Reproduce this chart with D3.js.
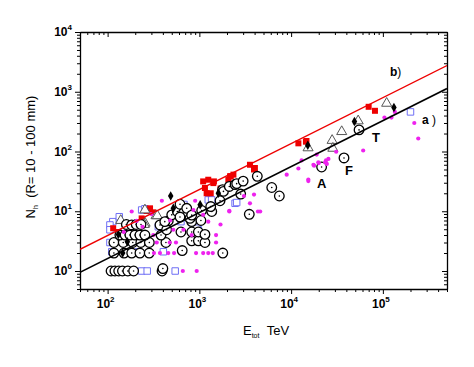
<!DOCTYPE html>
<html><head><meta charset="utf-8">
<script src="https://cdn.jsdelivr.net/npm/d3@7"></script>
<style>body{margin:0;background:#fff}svg{display:block}text{font-family:Arial,"Liberation Sans",sans-serif}</style>
</head><body>
<script>
// ---- data ----
const xDomain = [50, 5e5];
const yDomain = [0.5, 1e4];
const xMajor = [1e2, 1e3, 1e4, 1e5];
const xExp = ["2", "3", "4", "5"];
const yMajor = [1, 10, 100, 1000, 10000];
const yExp = ["0", "1", "2", "3", "4"];

// fit lines: [E, N] endpoints
const lineB = [[50, 2.3], [5e5, 2750]];   // red, "b)"
const lineA = [[50, 0.95], [5e5, 1130]];  // black, "a )"

// open circles with dot
const circles = [
 [109,1],[120,1],[132,1],[145,1],[166,1],[192,1],[392,1],[400,1.1],
 [117,2],[151,2],[183,2],[225,2],[284,2],[650,2.2],[1800,2],
 [117,3],[148,3],[188,3],[230,3],[285,3],[432,3],[825,3.2],[975,3.2],[1150,3],
 [136,4],[155,4],[175,4],[199,4],[225,4],[255,4],[382,4],[630,4.5],[825,4.5],[975,4.5],[1150,4.1],
 [160,6],[183,5.9],[205,6],[231,6],[372,5.9],[440,4.9],[458,6.9],[420,6.7],[825,6.7],[1040,7],
 [500,8.7],[575,9.9],[615,13.1],[727,10.5],[670,9.3],[790,7.6],[615,8],[728,11.2],[825,8.6],
 [1060,10.3],[1365,9.9],[1330,12],[1680,15],[1790,23],[1830,21.5],[2120,26],[2450,28],[2550,29],
 [2820,19.4],[3000,32],[4280,38.5],[3500,8.9],[6150,25],[7440,18],[21500,55],[37700,78],[55000,230]
];
// magenta dots
const dots = [
 [390,15],[860,10.5],[900,15],[1700,6],[2120,9.9],[3060,18],[3940,19],[4350,9.9],[183,9.9],[207,6.9],
 [320,2],[372,2],[458,2],[530,2],[920,2],[1100,2],[1250,2],[1400,2],[660,1],[935,1],
 [343,3],[476,3],[556,3],[1520,3],[315,4],[825,4],[1520,4],[1250,6.7],[1100,8.7],[520,4.9],[670,4.9],
 [150,4.5],[240,5.5],[300,9],[480,7],
 [8950,41],[12000,52],[15400,32],[13000,71],[19000,89],[17500,60],[20000,64],[24000,71],[24500,62],
 [3560,13.6],[4600,9.9],[2120,10.2],[31000,99],[25500,75],[23500,66],[19800,66],[17800,58],[61000,104],
 [104000,370],[124000,370],[135000,460],[220000,300],[243000,165],[15400,34]
];
// blue open squares
const bsq = [
 [114,6.7],[106,3],[111,2.1],[235,1],[270,1],[545,1],[235,10.5],[255,11],[680,13],[975,4.9],[1250,15.5],
 [2450,13.6],[106,5.9],[134,8.1],[357,5.5],[2550,14],[1360,15.5],[200000,460],[106,4.9],[440,5.9],
 [630,6.7],[935,5.2],[405,2.1],[216,2.1]
];
// red filled squares
const rsq = [
 [1100,31.6],[1250,33.7],[1440,31.6],[1150,24.5],[1200,20],[1330,20],[2160,38.5],[3560,60],[4030,53],
 [290,11.2],[266,10.1],[235,7.6],[131,4.5],[115,5.2],[12000,137],[14500,146],[3940,50],[2200,38.5],
 [2350,41],[2070,33.8],[1420,29.6],[70000,560],[82000,480],[14700,150],[278,10.1],[315,9.6],[1700,24]
];
// black diamonds
const dia = [
 [487,18],[1020,12.8],[131,4.1],[146,2],[164,3.1],[520,11.2],[1610,20],[15200,127],[49000,317],[132000,545]
];
// open triangles
const tri = [
 [110000,640],[35600,215],[28000,153],[28500,113],[53800,325],[15300,115],
 [337,8.4],[256,6.3],[139,7],[255,10.5],[251,6],[348,8.4]
];
// annotations [label, E, N] (text baseline)
const notes = [["A",21500,24.5],["F",42700,40],["T",84000,145]];

// ---- drawing ----
const W = 474, H = 367;
const m = {l: 80, r: 447, t: 32, b: 289};
const svg = d3.select("body").append("svg").attr("width", W).attr("height", H);
const x = d3.scaleLog().domain(xDomain).range([m.l, m.r]);
const y = d3.scaleLog().domain(yDomain).range([m.b, m.t]);

svg.append("defs").append("clipPath").attr("id","clip")
  .append("rect").attr("x",m.l).attr("y",m.t).attr("width",m.r-m.l).attr("height",m.b-m.t);

function logTicks(dom){
  const out=[];
  for(let k=Math.floor(Math.log10(dom[0])); k<=Math.ceil(Math.log10(dom[1])); k++)
    for(let i=1;i<10;i++){const v=i*Math.pow(10,k); if(v>=dom[0]*0.999 && v<=dom[1]*1.001) out.push(v);}
  return out;
}
const isMajor = v => Math.abs(Math.log10(v) - Math.round(Math.log10(v))) < 1e-9;
const xt = logTicks(xDomain), yt = logTicks(yDomain);

function axis(gen, tr, vals, sign){
  const g = svg.append("g").attr("transform", tr).call(gen.tickValues(vals).tickFormat("").tickSizeOuter(0));
  g.select(".domain").attr("stroke","#000").attr("stroke-width",1.3);
  g.selectAll(".tick line").attr("stroke","#000").attr("stroke-width",1)
   .each(function(d){const L=(isMajor(d)?5:3)*sign; const s=d3.select(this); if(s.attr("x2")!==null && +s.attr("x2")!==0) s.attr("x2",L); else s.attr("y2",L);});
  return g;
}
axis(d3.axisBottom(x), `translate(0,${m.b})`, xt, 1);
axis(d3.axisTop(x), `translate(0,${m.t})`, xt, 1);    // inward
axis(d3.axisLeft(y), `translate(${m.l},0)`, yt, -1);
axis(d3.axisRight(y), `translate(${m.r},0)`, yt, -1); // inward

// tick labels
xMajor.forEach((v,i)=>{
  const t = svg.append("text").attr("x", x(v)-2).attr("y", m.b+19).attr("text-anchor","middle")
    .attr("font-size",12).attr("font-weight","bold");
  t.append("tspan").text("10");
  t.append("tspan").attr("dy",-6).attr("font-size",8).text(xExp[i]);
});
yMajor.forEach((v,i)=>{
  const t = svg.append("text").attr("x", m.l-8).attr("y", y(v)+4).attr("text-anchor","end")
    .attr("font-size",12).attr("font-weight","bold");
  t.append("tspan").text("10");
  t.append("tspan").attr("dy",-6).attr("font-size",8).text(yExp[i]);
});

// axis titles
const xt1 = svg.append("text").attr("x", 266).attr("y", 335).attr("text-anchor","middle").attr("font-size",13);
xt1.append("tspan").text("E");
xt1.append("tspan").attr("dy",3).attr("font-size",7).text("tot");
xt1.append("tspan").attr("dy",-3).text("\u00a0\u00a0TeV");
const yt1 = svg.append("text").attr("transform","translate(35,157) rotate(-90)").attr("text-anchor","middle").attr("font-size",13);
yt1.append("tspan").text("N");
yt1.append("tspan").attr("dy",3).attr("font-size",7).text("h");
yt1.append("tspan").attr("dy",-3).text("\u00a0\u00a0(R= 10 - 100 mm)");

const pg = svg.append("g").attr("clip-path","url(#clip)");
const sym = (type,size)=>d3.symbol().type(type).size(size)();

pg.selectAll(".bs").data(bsq).join("path").attr("d",sym(d3.symbolSquare,42))
  .attr("transform",d=>`translate(${x(d[0])},${y(d[1])})`).attr("fill","#fff").attr("stroke","#6f6ff5").attr("stroke-width",1);
pg.selectAll(".rs").data(rsq).join("path").attr("d",sym(d3.symbolSquare,36))
  .attr("transform",d=>`translate(${x(d[0])},${y(d[1])})`).attr("fill","#ee0000");
pg.selectAll(".tr").data(tri).join("path").attr("d",sym(d3.symbolTriangle,44))
  .attr("transform",d=>`translate(${x(d[0])},${y(d[1])})`).attr("fill","#fff").attr("stroke","#555").attr("stroke-width",1);
const cg = pg.selectAll(".ci").data(circles).join("g").attr("transform",d=>`translate(${x(d[0])},${y(d[1])})`);
cg.append("circle").attr("r",4.8).attr("fill","#fff").attr("stroke","#000").attr("stroke-width",1.3);
cg.append("circle").attr("r",0.8).attr("fill","#000");
pg.selectAll(".dt").data(dots).join("circle").attr("cx",d=>x(d[0])).attr("cy",d=>y(d[1])).attr("r",2.1).attr("fill","#ee22ee");
pg.selectAll(".di").data(dia).join("path").attr("d",sym(d3.symbolDiamond,26))
  .attr("transform",d=>`translate(${x(d[0])},${y(d[1])})`).attr("fill","#000");

const ln = d3.line().x(d=>x(d[0])).y(d=>y(d[1]));
pg.append("path").attr("d",ln(lineB)).attr("stroke","#ee0000").attr("stroke-width",1.4).attr("fill","none");
pg.append("path").attr("d",ln(lineA)).attr("stroke","#000").attr("stroke-width",1.6).attr("fill","none");

// annotations
notes.forEach(n=>svg.append("text").attr("x",x(n[1])).attr("y",y(n[2])).attr("text-anchor","middle")
  .attr("font-size",13).attr("font-weight","bold").text(n[0]));
const tb = svg.append("text").attr("x",390).attr("y",76).attr("font-size",12);
tb.append("tspan").attr("font-weight","bold").text("b");
tb.append("tspan").text(")");
const ta = svg.append("text").attr("x",422).attr("y",124).attr("font-size",12);
ta.append("tspan").attr("font-weight","bold").text("a");
ta.append("tspan").text(" )");
</script>
</body></html>
